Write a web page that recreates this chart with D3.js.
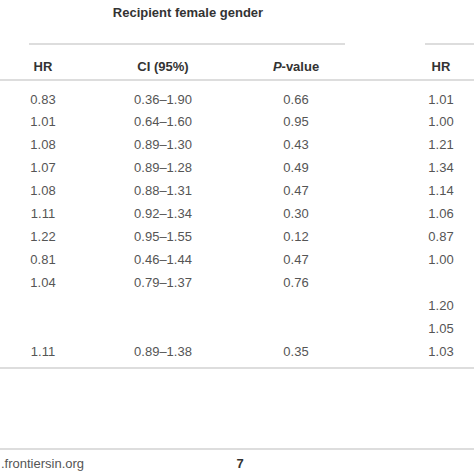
<!DOCTYPE html><html><head><meta charset="utf-8"><script src="https://cdn.jsdelivr.net/npm/d3@7"></script>
<style>body{margin:0;background:#fff}</style></head><body><script>
const hr1=["0.83","1.01","1.08","1.07","1.08","1.11","1.22","0.81","1.04","","","1.11"];
const ci=["0.36–1.90","0.64–1.60","0.89–1.30","0.89–1.28","0.88–1.31","0.92–1.34","0.95–1.55","0.46–1.44","0.79–1.37","","","0.89–1.38"];
const pval=["0.66","0.95","0.43","0.49","0.47","0.30","0.12","0.47","0.76","","","0.35"];
const hr2=["1.01","1.00","1.21","1.34","1.14","1.06","0.87","1.00","","1.20","1.05","1.03"];
const svg=d3.select("body").append("svg").attr("width",474).attr("height",474).style("font-family","Liberation Sans, Arial, sans-serif");
const y=d3.scaleLinear().domain([0,11]).range([99,351]);
const cols=[{x:43,d:hr1},{x:163,d:ci},{x:296,d:pval},{x:441,d:hr2}];
svg.append("text").attr("x",188).attr("y",17).attr("text-anchor","middle").attr("font-weight","bold").attr("font-size",13).attr("fill","#333").text("Recipient female gender");
const line=(x1,x2,yy)=>svg.append("line").attr("x1",x1).attr("x2",x2).attr("y1",yy).attr("y2",yy).attr("stroke","#bbb").attr("stroke-width",1.2);
line(29,345,44);line(425,474,44);line(0,474,80);line(0,474,368);line(0,474,449);
const hdr=svg.append("g").attr("font-weight","bold").attr("font-size",13).attr("fill","#333").attr("text-anchor","middle");
hdr.append("text").attr("x",43).attr("y",71).text("HR");
hdr.append("text").attr("x",163).attr("y",71).text("CI (95%)");
const pt=hdr.append("text").attr("x",296).attr("y",71);pt.append("tspan").attr("font-style","italic").text("P");pt.append("tspan").text("-value");
hdr.append("text").attr("x",441).attr("y",71).text("HR");
cols.forEach(c=>svg.append("g").selectAll("text").data(c.d).join("text").attr("x",c.x).attr("y",(d,i)=>y(i)+4.5).attr("text-anchor","middle").attr("font-size",13).attr("fill","#555").text(d=>d));
svg.append("text").attr("x",1).attr("y",468).attr("font-size",13).attr("fill","#555").text(".frontiersin.org");
svg.append("text").attr("x",240).attr("y",468).attr("text-anchor","middle").attr("font-weight","bold").attr("font-size",13).attr("fill","#333").text("7");
</script></body></html>
